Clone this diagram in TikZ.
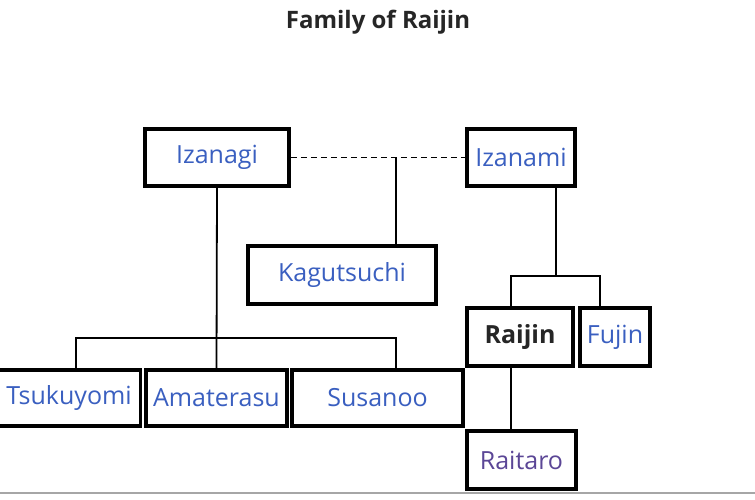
\documentclass[tikz,border=0pt]{standalone}
\usepackage{fontspec}
\setmainfont{Open Sans}
\begin{document}
\begin{tikzpicture}[x=1pt,y=-1pt,
  box/.style={draw=black,line width=3.5pt,fill=white,inner sep=0pt,text=blu,font=\fontsize{25}{30}\selectfont},
  conn/.style={line width=1.8pt}]
\definecolor{blu}{HTML}{3A5FC0}
\definecolor{purp}{HTML}{5B4696}
\useasboundingbox (0,0) rectangle (755,499);
\node[font=\bfseries\fontsize{24}{28}\selectfont,text=black!85] (title) at (378,22) {Family of Raijin};
\node[box,minimum width=144,minimum height=57] (izg) at (217,157.5) {Izanagi};
\node[box,minimum width=108,minimum height=57] (izm) at (521,157.5) {Izanami};
\node[box,minimum width=188,minimum height=58] (kag) at (342,275) {Kagutsuchi};
\node[box,minimum width=106,minimum height=58,text=black!85,font=\bfseries\fontsize{25}{30}\selectfont] (rai) at (520,337) {Raijin};
\node[box,minimum width=70,minimum height=58] (fuj) at (615,337) {Fujin};
\node[box,minimum width=143,minimum height=56] (tsu) at (69,398) {Tsukuyomi};
\node[box,minimum width=141,minimum height=56] (ama) at (216.5,398) {Amaterasu};
\node[box,minimum width=171,minimum height=56] (sus) at (377.5,398) {Susanoo};
\node[box,minimum width=109,minimum height=58,text=purp] (rtr) at (521.5,460) {Raitaro};
\draw[gray!70,line width=1.5pt] (0,493) -- (755,493);
% connectors
\draw[conn,dash pattern=on 6pt off 4pt] (izg.east) -- (izm.west);
\coordinate (m) at (396,157.5);
\draw[conn] (m) -- (m|-kag.north);
\draw[conn] (izg.south) -- (ama.north);
\coordinate (hl) at (76,338);
\coordinate (hr) at (396,338);
\draw[conn] (hl|-tsu.north) -- (hl) -- (hr) -- (hr|-sus.north);
\coordinate (a) at (556,186);
\coordinate (b) at (556,276);
\draw[conn] (a) -- (b);
\draw[conn] (511,308) -- (511,276) -- (600,276) -- (600,308);
\draw[conn] (511,366) -- (511,431);
\end{tikzpicture}
\end{document}
